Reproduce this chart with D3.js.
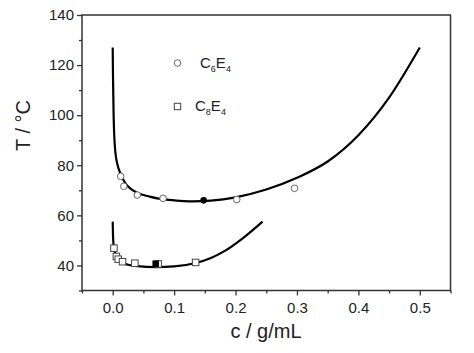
<!DOCTYPE html>
<html>
<head>
<meta charset="utf-8">
<script src="https://cdn.jsdelivr.net/npm/d3@7"></script>
<style>
  body { margin: 0; background: #fff; }
  text { font-family: Arial, "Liberation Sans", sans-serif; fill: #222; }
</style>
</head>
<body>
<svg id="chart" width="474" height="353"></svg>
<script>
// C6E4 fitted curve and measured points
const c6Curve = [[0.000,127],[0.0005,115],[0.0015,100],[0.004,86],[0.008,80],[0.013,76.5],[0.021,72.7],[0.03,70.5],[0.043,68.7],[0.06,67.5],[0.075,66.7],[0.1,66],[0.13,65.6],[0.16,65.9],[0.2,67.2],[0.25,70.3],[0.3,75],[0.35,81.5],[0.4,92],[0.45,107],[0.5,127]];
const c6Points = [[0.013,75.6],[0.018,71.6],[0.040,68.1],[0.082,66.8],[0.202,66.3],[0.296,70.8]];
const c6Critical = [0.148, 66];

// C8E4 fitted curve and measured points
const c8Curve = [[0,57.5],[0.0005,52],[0.0015,48],[0.004,45],[0.008,42.8],[0.015,41.2],[0.025,40.3],[0.04,39.7],[0.07,39.3],[0.1,39.6],[0.135,41],[0.16,43],[0.184,46],[0.21,50.5],[0.244,57.5]];
const c8Points = [[0.002,46.9],[0.006,43.6],[0.009,42.5],[0.016,41.5],[0.036,40.9],[0.074,40.6],[0.135,41.2]];
const c8Critical = [0.070, 40.7];

const xTicks = [0, 0.1, 0.2, 0.3, 0.4, 0.5];
const yTicks = [40, 60, 80, 100, 120, 140];

const svg = d3.select("#chart");
const mLeft = 82, mRight = 450.5, mTop = 15, mBottom = 290.5;

const x = d3.scaleLinear().domain([-0.05, 0.55]).range([mLeft, mRight]);
const y = d3.scaleLinear().domain([30, 140]).range([mBottom, mTop]);

// frame
svg.append("rect")
  .attr("x", mLeft).attr("y", mTop)
  .attr("width", mRight - mLeft).attr("height", mBottom - mTop)
  .attr("fill", "none").attr("stroke", "#333").attr("stroke-width", 1.5);

// x axis
const xMinor = svg.append("g").attr("transform", `translate(0,${mBottom})`);
xMinor.call(d3.axisBottom(x).tickValues(d3.range(-0.05, 0.551, 0.1)).tickSize(3).tickFormat(""));
const xAxis = svg.append("g").attr("transform", `translate(0,${mBottom})`);
xAxis.call(d3.axisBottom(x).tickValues(xTicks).tickSize(5).tickPadding(7).tickFormat(d3.format(".1f")));
svg.selectAll(".domain").remove();
xMinor.selectAll("line").attr("stroke", "#333").attr("stroke-width", 1.3);
xAxis.selectAll("line").attr("stroke", "#333").attr("stroke-width", 1.3);
xAxis.selectAll("text").style("font-size", "15px").attr("fill", "#222");

// y axis
const yMinor = svg.append("g").attr("transform", `translate(${mLeft},0)`);
yMinor.call(d3.axisLeft(y).tickValues(d3.range(30, 141, 20)).tickSize(3).tickFormat(""));
const yAxis = svg.append("g").attr("transform", `translate(${mLeft},0)`);
yAxis.call(d3.axisLeft(y).tickValues(yTicks).tickSize(5).tickPadding(3).tickFormat(d3.format("d")));
svg.selectAll(".domain").remove();
yMinor.selectAll("line").attr("stroke", "#333").attr("stroke-width", 1.3);
yAxis.selectAll("line").attr("stroke", "#333").attr("stroke-width", 1.3);
yAxis.selectAll("text").style("font-size", "15px").attr("fill", "#222");

// axis titles
svg.append("text")
  .attr("x", 266).attr("y", 338)
  .attr("text-anchor", "middle")
  .style("font-size", "20px")
  .text("c / g/mL");

svg.append("text")
  .attr("transform", "translate(29.5,125.5) rotate(-90)")
  .attr("text-anchor", "middle")
  .style("font-size", "20px")
  .text("T / °C");

// curves
const line = d3.line()
  .x(d => x(d[0]))
  .y(d => y(d[1]))
  .curve(d3.curveMonotoneX);

[c6Curve, c8Curve].forEach(data => {
  svg.append("path")
    .datum(data)
    .attr("d", line)
    .attr("fill", "none")
    .attr("stroke", "#000")
    .attr("stroke-width", 2.2);
});

// C6E4 circles
svg.selectAll(".c6")
  .data(c6Points)
  .enter()
  .append("circle")
  .attr("cx", d => x(d[0]))
  .attr("cy", d => y(d[1]))
  .attr("r", 3.3)
  .attr("fill", "#fff")
  .attr("stroke", "#666")
  .attr("stroke-width", 1);

svg.append("circle")
  .attr("cx", x(c6Critical[0]))
  .attr("cy", y(c6Critical[1]))
  .attr("r", 3.3)
  .attr("fill", "#000");

// C8E4 squares
const sq = 6.5;
svg.selectAll(".c8")
  .data(c8Points)
  .enter()
  .append("rect")
  .attr("x", d => x(d[0]) - sq / 2)
  .attr("y", d => y(d[1]) - sq / 2)
  .attr("width", sq).attr("height", sq)
  .attr("fill", "#fff")
  .attr("stroke", "#444")
  .attr("stroke-width", 1);

svg.append("rect")
  .attr("x", x(c8Critical[0]) - sq / 2)
  .attr("y", y(c8Critical[1]) - sq / 2)
  .attr("width", sq).attr("height", sq)
  .attr("fill", "#000");

// legend
svg.append("circle")
  .attr("cx", 177.5).attr("cy", 63)
  .attr("r", 3.3)
  .attr("fill", "#fff").attr("stroke", "#666").attr("stroke-width", 1);

svg.append("rect")
  .attr("x", 177.5 - 3.2).attr("y", 106.5 - 3.2)
  .attr("width", 6.4).attr("height", 6.4)
  .attr("fill", "#fff").attr("stroke", "#444").attr("stroke-width", 1);

function legendLabel(xPos, yPos, n) {
  const t = svg.append("text").attr("x", xPos).attr("y", yPos).style("font-size", "15px");
  t.append("tspan").text("C");
  t.append("tspan").attr("dy", 4).style("font-size", "9px").text(n);
  t.append("tspan").attr("dy", -4).text("E");
  t.append("tspan").attr("dy", 4).style("font-size", "9px").text("4");
}
legendLabel(200, 67.5, "6");
legendLabel(195, 111, "8");
</script>
</body>
</html>
